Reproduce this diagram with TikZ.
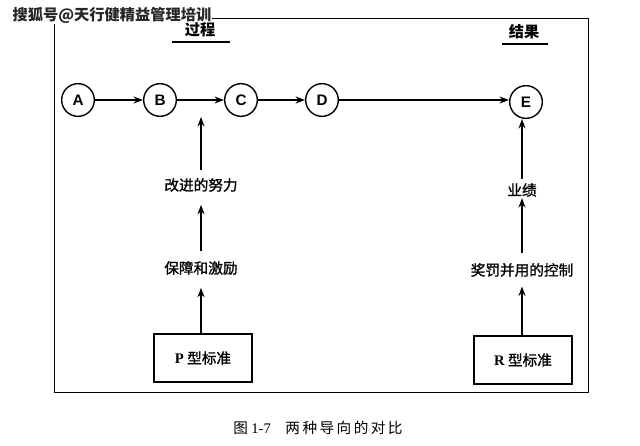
\documentclass[tikz,border=0pt]{standalone}
\usepackage{fontspec}
\setmainfont{Liberation Serif}
\newfontfamily\cjk{Noto Sans CJK SC}
\newfontfamily\cjkm[FakeBold=1.2]{Noto Sans CJK SC}
\newfontfamily\lat{Liberation Sans}
\usetikzlibrary{arrows.meta}
\begin{document}
\begin{tikzpicture}[x=0.03cm,y=-0.03cm,
  circ/.style={circle,draw,line width=1.2pt,minimum size=0.98cm,inner sep=0pt,font=\lat\bfseries\fontsize{13}{13}\selectfont},
  lbl/.style={font=\cjkm\fontsize{12.5}{13}\selectfont,inner sep=1pt},
  box/.style={draw,line width=1.1pt,minimum width=2.94cm,minimum height=1.44cm,font=\cjkm\fontsize{12.5}{13}\selectfont},
  arr/.style={line width=2pt,-{Stealth[length=8pt,width=6pt]}},
  head/.style={font=\cjk\bfseries\fontsize{13}{13}\selectfont,inner sep=1pt}]
\useasboundingbox (0,0) rectangle (640,446);
\draw[line width=0.8pt] (54,18) rectangle (588,392);
\node[font=\cjk\bfseries\fontsize{13}{13}\selectfont,text=black!85,fill=white,inner sep=1pt] (wm) at (112,15) {搜狐号@天行健精益管理培训};
\node[head] (proc) at (200,30) {过程};
\coordinate (pu1) at (172,42); \coordinate (pu2) at (230,42);
\draw[line width=0.9pt] (pu1) -- (pu2);
\node[head] (res) at (524,32) {结果};
\coordinate (ru1) at (502,44); \coordinate (ru2) at (548,44);
\draw[line width=0.9pt] (ru1) -- (ru2);
\node[circ] (A) at (78,100) {A};
\node[circ] (B) at (160,100) {B};
\node[circ] (C) at (241,100) {C};
\node[circ] (D) at (322,100) {D};
\node[circ] (E) at (526,102) {E};
\draw[arr] (A) -- (B);
\draw[arr] (B) -- (C);
\draw[arr] (C) -- (D);
\draw[arr] (D) -- (E.west |- D);
\coordinate (bc) at (201,117);
\node[lbl] (gj) at (201,185) {改进的努力};
\node[lbl] (bz) at (201,268) {保障和激励};
\node[box] (P) at (203,358) {{\rmfamily\bfseries P} 型标准};
\draw[arr,shorten <=0.2cm] (gj.north) -- (bc);
\draw[arr,shorten <=0.25cm,shorten >=0.35cm] (bz.north) -- (gj.south);
\draw[arr,shorten >=0.35cm] (P.north -| bz) -- (bz.south);
\node[lbl] (yj) at (522,190) {业绩};
\node[lbl] (jf) at (522,270) {奖罚并用的控制};
\node[box] (R) at (523,360) {{\rmfamily\bfseries R} 型标准};
\draw[arr,shorten <=0.1cm] (yj.north) -- (E.south -| yj);
\draw[arr,shorten <=0.25cm] (jf.north) -- (yj.south);
\draw[arr,shorten >=0.25cm] (R.north -| jf) -- (jf.south);
\node[font=\cjk\fontsize{12.5}{13}\selectfont] (cap) at (318,428) {图 {\rmfamily 1-7}\quad 两\,种\,导\,向\,的\,对\,比};
\end{tikzpicture}
\end{document}
